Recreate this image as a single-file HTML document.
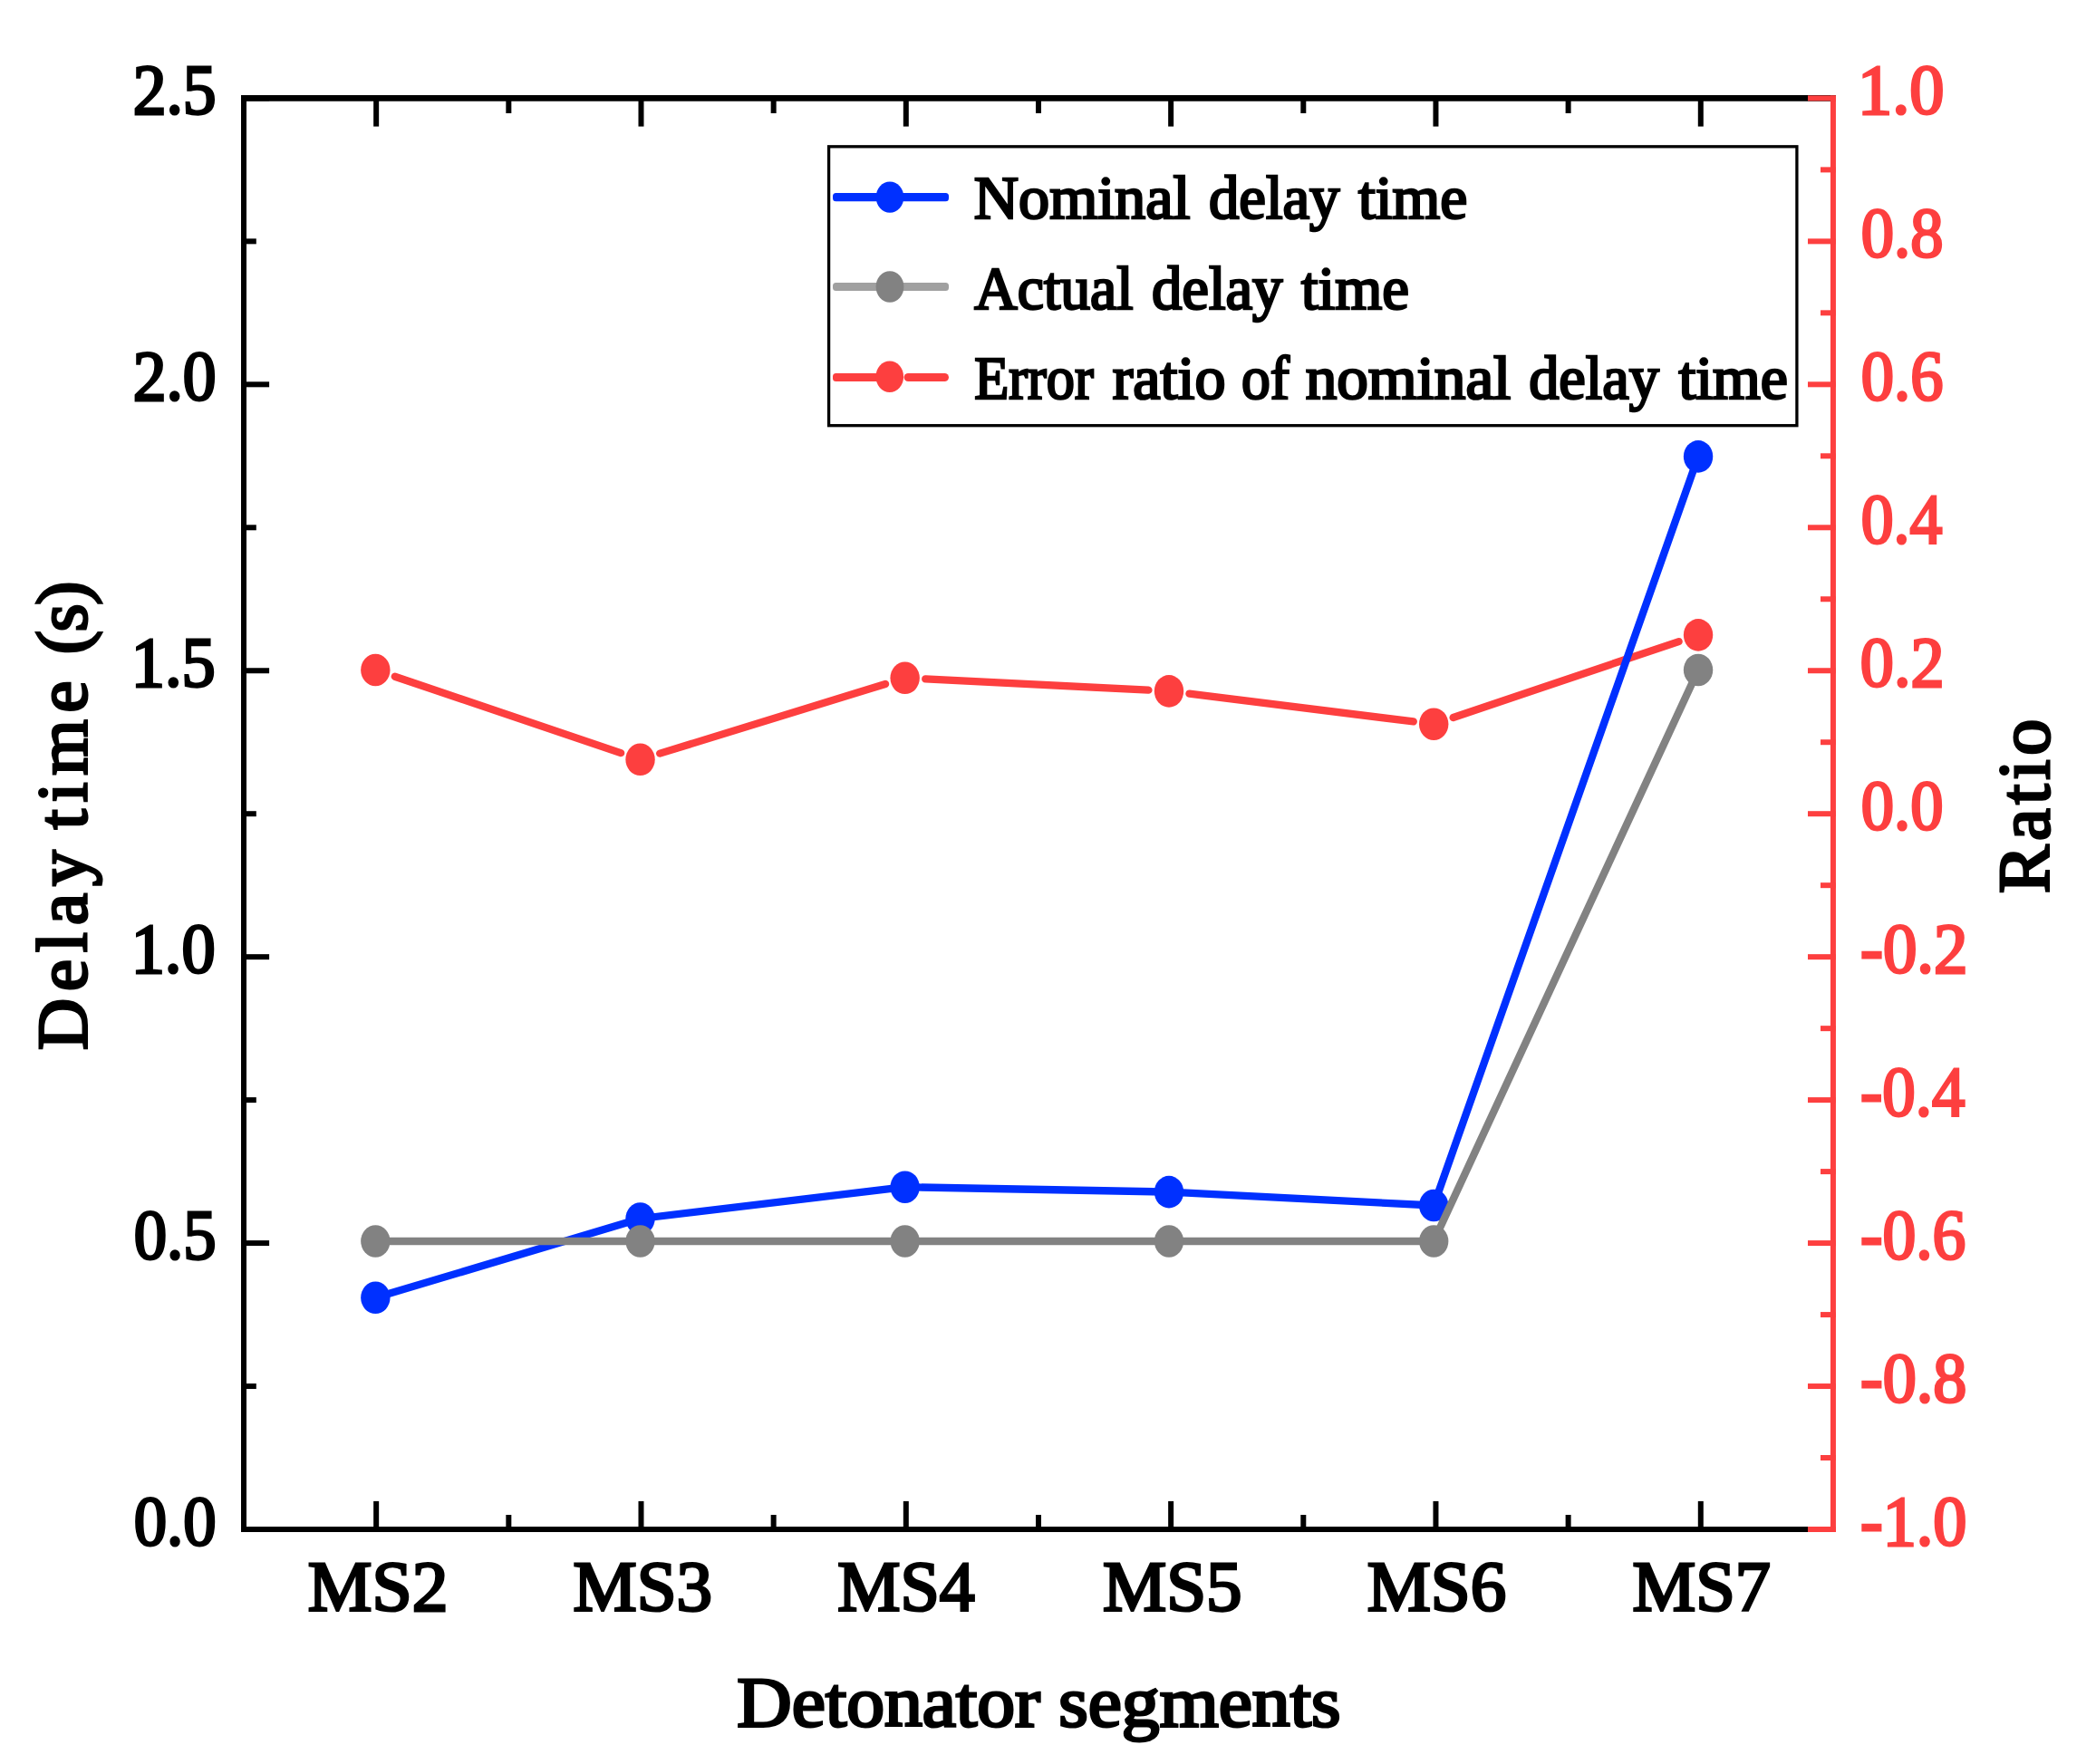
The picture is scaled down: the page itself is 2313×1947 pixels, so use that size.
<!DOCTYPE html>
<html lang="en"><head><meta charset="utf-8"><title>Delay time chart</title>
<style>html,body{margin:0;padding:0;background:#fff}body{width:2313px;height:1947px;overflow:hidden}</style>
</head><body>
<svg width="2313" height="1947" viewBox="0 0 2313 1947" style="display:block">
<rect width="2313" height="1947" fill="#fff"/>
<g stroke="#FD3F3F" stroke-width="8.3" stroke-linecap="round" fill="none">
<line x1="435.76" y1="746.74" x2="685.14" y2="831.06"/>
<line x1="728.15" y1="831.65" x2="977.05" y2="754.95"/>
<line x1="1021.22" y1="749.43" x2="1267.43" y2="761.72"/>
<line x1="1312.43" y1="765.64" x2="1559.77" y2="796.41"/>
<line x1="1603.62" y1="791.98" x2="1852.63" y2="708.07"/>
</g>
<g fill="#FD3F3F"><ellipse cx="414.35" cy="739.50" rx="16.2" ry="17.8"/><ellipse cx="706.55" cy="838.30" rx="16.2" ry="17.8"/><ellipse cx="998.65" cy="748.30" rx="16.2" ry="17.8"/><ellipse cx="1290.00" cy="762.85" rx="16.2" ry="17.8"/><ellipse cx="1582.20" cy="799.20" rx="16.2" ry="17.8"/><ellipse cx="1874.05" cy="700.85" rx="16.2" ry="17.8"/></g>
<polyline fill="none" stroke="#0030FF" stroke-width="8.3" stroke-linejoin="round" stroke-linecap="round" points="414.35,1432.30 706.55,1345.00 998.65,1310.20 1290.00,1315.60 1582.20,1330.50 1874.05,503.85"/>
<g fill="#0030FF"><ellipse cx="414.35" cy="1432.30" rx="16.2" ry="17.8"/><ellipse cx="706.55" cy="1345.00" rx="16.2" ry="17.8"/><ellipse cx="998.65" cy="1310.20" rx="16.2" ry="17.8"/><ellipse cx="1290.00" cy="1315.60" rx="16.2" ry="17.8"/><ellipse cx="1582.20" cy="1330.50" rx="16.2" ry="17.8"/><ellipse cx="1874.05" cy="503.85" rx="16.2" ry="17.8"/></g>
<polyline fill="none" stroke="#828282" stroke-width="8.3" stroke-linejoin="round" stroke-linecap="round" points="414.35,1370.00 706.55,1370.00 998.65,1370.00 1290.00,1370.00 1582.20,1370.00 1874.05,739.45"/>
<g fill="#828282"><ellipse cx="414.35" cy="1370.00" rx="16.2" ry="17.8"/><ellipse cx="706.55" cy="1370.00" rx="16.2" ry="17.8"/><ellipse cx="998.65" cy="1370.00" rx="16.2" ry="17.8"/><ellipse cx="1290.00" cy="1370.00" rx="16.2" ry="17.8"/><ellipse cx="1582.20" cy="1370.00" rx="16.2" ry="17.8"/><ellipse cx="1874.05" cy="739.45" rx="16.2" ry="17.8"/></g>
<g stroke="#000" stroke-width="6.0" fill="none" stroke-linecap="butt">
<path d="M269.0 105.4 V1691.0"/>
<path d="M266.0 108.4 H2025.95" stroke-width="6.8"/>
<path d="M266.0 1688.0 H2025.95"/>
<path d="M269.0 1688.00 H297.1"/>
<path d="M269.0 1530.04 H282.8"/>
<path d="M269.0 1372.08 H297.1"/>
<path d="M269.0 1214.12 H282.8"/>
<path d="M269.0 1056.16 H297.1"/>
<path d="M269.0 898.20 H282.8"/>
<path d="M269.0 740.24 H297.1"/>
<path d="M269.0 582.28 H282.8"/>
<path d="M269.0 424.32 H297.1"/>
<path d="M269.0 266.36 H282.8"/>
<path d="M269.0 108.40 H297.1"/>
<path d="M415.16 108.4 V139.6"/>
<path d="M415.16 1688.0 V1656.9"/>
<path d="M561.33 108.4 V125.0"/>
<path d="M561.33 1688.0 V1672.0"/>
<path d="M707.49 108.4 V139.6"/>
<path d="M707.49 1688.0 V1656.9"/>
<path d="M853.65 108.4 V125.0"/>
<path d="M853.65 1688.0 V1672.0"/>
<path d="M999.81 108.4 V139.6"/>
<path d="M999.81 1688.0 V1656.9"/>
<path d="M1145.97 108.4 V125.0"/>
<path d="M1145.97 1688.0 V1672.0"/>
<path d="M1292.14 108.4 V139.6"/>
<path d="M1292.14 1688.0 V1656.9"/>
<path d="M1438.30 108.4 V125.0"/>
<path d="M1438.30 1688.0 V1672.0"/>
<path d="M1584.46 108.4 V139.6"/>
<path d="M1584.46 1688.0 V1656.9"/>
<path d="M1730.62 108.4 V125.0"/>
<path d="M1730.62 1688.0 V1672.0"/>
<path d="M1876.79 108.4 V139.6"/>
<path d="M1876.79 1688.0 V1656.9"/>
</g>
<g stroke="#FD3F3F" stroke-width="6.0" fill="none">
<path d="M2022.95 105.4 V1691.0"/>
<path d="M2025.95 1688.00 H1995"/>
<path d="M2025.95 1609.02 H2009"/>
<path d="M2025.95 1530.04 H1995"/>
<path d="M2025.95 1451.06 H2009"/>
<path d="M2025.95 1372.08 H1995"/>
<path d="M2025.95 1293.10 H2009"/>
<path d="M2025.95 1214.12 H1995"/>
<path d="M2025.95 1135.14 H2009"/>
<path d="M2025.95 1056.16 H1995"/>
<path d="M2025.95 977.18 H2009"/>
<path d="M2025.95 898.20 H1995"/>
<path d="M2025.95 819.22 H2009"/>
<path d="M2025.95 740.24 H1995"/>
<path d="M2025.95 661.26 H2009"/>
<path d="M2025.95 582.28 H1995"/>
<path d="M2025.95 503.30 H2009"/>
<path d="M2025.95 424.32 H1995"/>
<path d="M2025.95 345.34 H2009"/>
<path d="M2025.95 266.36 H1995"/>
<path d="M2025.95 187.38 H2009"/>
<path d="M2025.95 108.40 H1995"/>
</g>
<rect x="914.6" y="161.8" width="1068.3" height="307.9" fill="#fff" stroke="#000" stroke-width="3.3"/>
<rect x="919" y="213.1" width="128" height="9.2" rx="3.5" fill="#0030FF"/>
<ellipse cx="982" cy="217.7" rx="15.3" ry="17.1" fill="#0030FF"/>
<rect x="919" y="311.9" width="128" height="9.2" rx="3.5" fill="#A0A0A0"/>
<ellipse cx="982" cy="316.5" rx="15.4" ry="17.3" fill="#828282"/>
<rect x="919" y="411.9" width="66" height="9.2" rx="3.5" fill="#FD3F3F"/>
<rect x="997.6" y="411.9" width="49.39999999999998" height="9.2" rx="4.6" fill="#FD3F3F"/>
<ellipse cx="981.8" cy="415.7" rx="15.3" ry="17.3" fill="#FD3F3F"/>
<g style="font-family:'Liberation Serif','DejaVu Serif',serif;font-weight:normal" stroke-linejoin="miter" stroke-miterlimit="2.5">
<text x="1074.80" y="240.8" textLength="238.61" lengthAdjust="spacingAndGlyphs" fill="#000" stroke="#000" stroke-width="2.6" font-size="67">Nominal</text>
<text x="1333.90" y="240.8" textLength="144.52" lengthAdjust="spacingAndGlyphs" fill="#000" stroke="#000" stroke-width="2.6" font-size="67">delay</text>
<text x="1499.00" y="240.8" textLength="120.32" lengthAdjust="spacingAndGlyphs" fill="#000" stroke="#000" stroke-width="2.6" font-size="67">time</text>
<text x="1075.30" y="340.6" textLength="175.13" lengthAdjust="spacingAndGlyphs" fill="#000" stroke="#000" stroke-width="2.6" font-size="67">Actual</text>
<text x="1270.90" y="340.6" textLength="144.52" lengthAdjust="spacingAndGlyphs" fill="#000" stroke="#000" stroke-width="2.6" font-size="67">delay</text>
<text x="1436.00" y="340.6" textLength="118.91" lengthAdjust="spacingAndGlyphs" fill="#000" stroke="#000" stroke-width="2.6" font-size="67">time</text>
<text x="1075.30" y="440.0" textLength="131.42" lengthAdjust="spacingAndGlyphs" fill="#000" stroke="#000" stroke-width="2.6" font-size="67">Error</text>
<text x="1227.70" y="440.0" textLength="124.75" lengthAdjust="spacingAndGlyphs" fill="#000" stroke="#000" stroke-width="2.6" font-size="67">ratio</text>
<text x="1369.90" y="440.0" textLength="53.00" lengthAdjust="spacingAndGlyphs" fill="#000" stroke="#000" stroke-width="2.6" font-size="67">of</text>
<text x="1440.70" y="440.0" textLength="226.63" lengthAdjust="spacingAndGlyphs" fill="#000" stroke="#000" stroke-width="2.6" font-size="67">nominal</text>
<text x="1687.20" y="440.0" textLength="143.71" lengthAdjust="spacingAndGlyphs" fill="#000" stroke="#000" stroke-width="2.6" font-size="67">delay</text>
<text x="1852.40" y="440.0" textLength="120.61" lengthAdjust="spacingAndGlyphs" fill="#000" stroke="#000" stroke-width="2.6" font-size="67">time</text>
<text x="813.30" y="1904.9" textLength="334.71" lengthAdjust="spacingAndGlyphs" fill="#000" stroke="#000" stroke-width="3.0" font-size="79">Detonator</text>
<text x="1168.20" y="1904.9" textLength="311.25" lengthAdjust="spacingAndGlyphs" fill="#000" stroke="#000" stroke-width="3.0" font-size="79">segments</text>
<text transform="translate(94.5 0) rotate(-90)" x="-1159.00" y="0" textLength="220.41" lengthAdjust="spacing" fill="#000" stroke="#000" stroke-width="3.0" font-size="79">Delay</text>
<text transform="translate(94.5 0) rotate(-90)" x="-915.20" y="0" textLength="163.81" lengthAdjust="spacing" fill="#000" stroke="#000" stroke-width="3.0" font-size="79">time</text>
<text transform="translate(94.5 0) rotate(-90)" x="-722.30" y="0" textLength="80.80" lengthAdjust="spacing" fill="#000" stroke="#000" stroke-width="3.0" font-size="79">(s)</text>
<text transform="translate(2260.5 0) rotate(-90)" x="-986.00" y="0" textLength="192.13" lengthAdjust="spacing" fill="#000" stroke="#000" stroke-width="3.0" font-size="80">Ratio</text>
<text x="147.70" y="1704.5" textLength="90.82" lengthAdjust="spacingAndGlyphs" fill="#000" stroke="#000" stroke-width="3.0" font-size="78.5">0.0</text>
<text x="147.70" y="1388.6" textLength="90.84" lengthAdjust="spacingAndGlyphs" fill="#000" stroke="#000" stroke-width="3.0" font-size="78.5">0.5</text>
<text x="144.70" y="1072.7" textLength="92.96" lengthAdjust="spacingAndGlyphs" fill="#000" stroke="#000" stroke-width="3.0" font-size="78.5">1.0</text>
<text x="144.70" y="756.7" textLength="92.98" lengthAdjust="spacingAndGlyphs" fill="#000" stroke="#000" stroke-width="3.0" font-size="78.5">1.5</text>
<text x="146.70" y="440.8" textLength="91.87" lengthAdjust="spacingAndGlyphs" fill="#000" stroke="#000" stroke-width="3.0" font-size="78.5">2.0</text>
<text x="146.70" y="124.9" textLength="91.87" lengthAdjust="spacingAndGlyphs" fill="#000" stroke="#000" stroke-width="3.0" font-size="78.5">2.5</text>
<text x="2053.00" y="1704.5" textLength="117.38" lengthAdjust="spacingAndGlyphs" fill="#FD3F3F" stroke="#FD3F3F" stroke-width="3.0" font-size="78.5">-1.0</text>
<text x="2053.00" y="1546.5" textLength="117.38" lengthAdjust="spacingAndGlyphs" fill="#FD3F3F" stroke="#FD3F3F" stroke-width="3.0" font-size="78.5">-0.8</text>
<text x="2053.00" y="1388.6" textLength="116.36" lengthAdjust="spacingAndGlyphs" fill="#FD3F3F" stroke="#FD3F3F" stroke-width="3.0" font-size="78.5">-0.6</text>
<text x="2053.00" y="1230.6" textLength="115.32" lengthAdjust="spacingAndGlyphs" fill="#FD3F3F" stroke="#FD3F3F" stroke-width="3.0" font-size="78.5">-0.4</text>
<text x="2053.00" y="1072.7" textLength="118.44" lengthAdjust="spacingAndGlyphs" fill="#FD3F3F" stroke="#FD3F3F" stroke-width="3.0" font-size="78.5">-0.2</text>
<text x="2053.80" y="914.7" textLength="90.61" lengthAdjust="spacingAndGlyphs" fill="#FD3F3F" stroke="#FD3F3F" stroke-width="3.0" font-size="78.5">0.0</text>
<text x="2052.80" y="756.7" textLength="92.71" lengthAdjust="spacingAndGlyphs" fill="#FD3F3F" stroke="#FD3F3F" stroke-width="3.0" font-size="78.5">0.2</text>
<text x="2053.80" y="598.8" textLength="89.56" lengthAdjust="spacingAndGlyphs" fill="#FD3F3F" stroke="#FD3F3F" stroke-width="3.0" font-size="78.5">0.4</text>
<text x="2053.80" y="440.8" textLength="90.59" lengthAdjust="spacingAndGlyphs" fill="#FD3F3F" stroke="#FD3F3F" stroke-width="3.0" font-size="78.5">0.6</text>
<text x="2053.80" y="282.9" textLength="90.61" lengthAdjust="spacingAndGlyphs" fill="#FD3F3F" stroke="#FD3F3F" stroke-width="3.0" font-size="78.5">0.8</text>
<text x="2050.00" y="124.9" textLength="95.43" lengthAdjust="spacingAndGlyphs" fill="#FD3F3F" stroke="#FD3F3F" stroke-width="3.0" font-size="78.5">1.0</text>
<text x="339.86" y="1776.6" textLength="154.49" lengthAdjust="spacingAndGlyphs" fill="#000" stroke="#000" stroke-width="3.0" font-size="78.5">MS2</text>
<text x="632.59" y="1776.6" textLength="153.43" lengthAdjust="spacingAndGlyphs" fill="#000" stroke="#000" stroke-width="3.0" font-size="78.5">MS3</text>
<text x="924.31" y="1776.6" textLength="151.44" lengthAdjust="spacingAndGlyphs" fill="#000" stroke="#000" stroke-width="3.0" font-size="78.5">MS4</text>
<text x="1217.04" y="1776.6" textLength="153.45" lengthAdjust="spacingAndGlyphs" fill="#000" stroke="#000" stroke-width="3.0" font-size="78.5">MS5</text>
<text x="1508.76" y="1776.6" textLength="153.43" lengthAdjust="spacingAndGlyphs" fill="#000" stroke="#000" stroke-width="3.0" font-size="78.5">MS6</text>
<text x="1801.49" y="1776.6" textLength="152.43" lengthAdjust="spacingAndGlyphs" fill="#000" stroke="#000" stroke-width="3.0" font-size="78.5">MS7</text>
</g>
</svg>
</body></html>
